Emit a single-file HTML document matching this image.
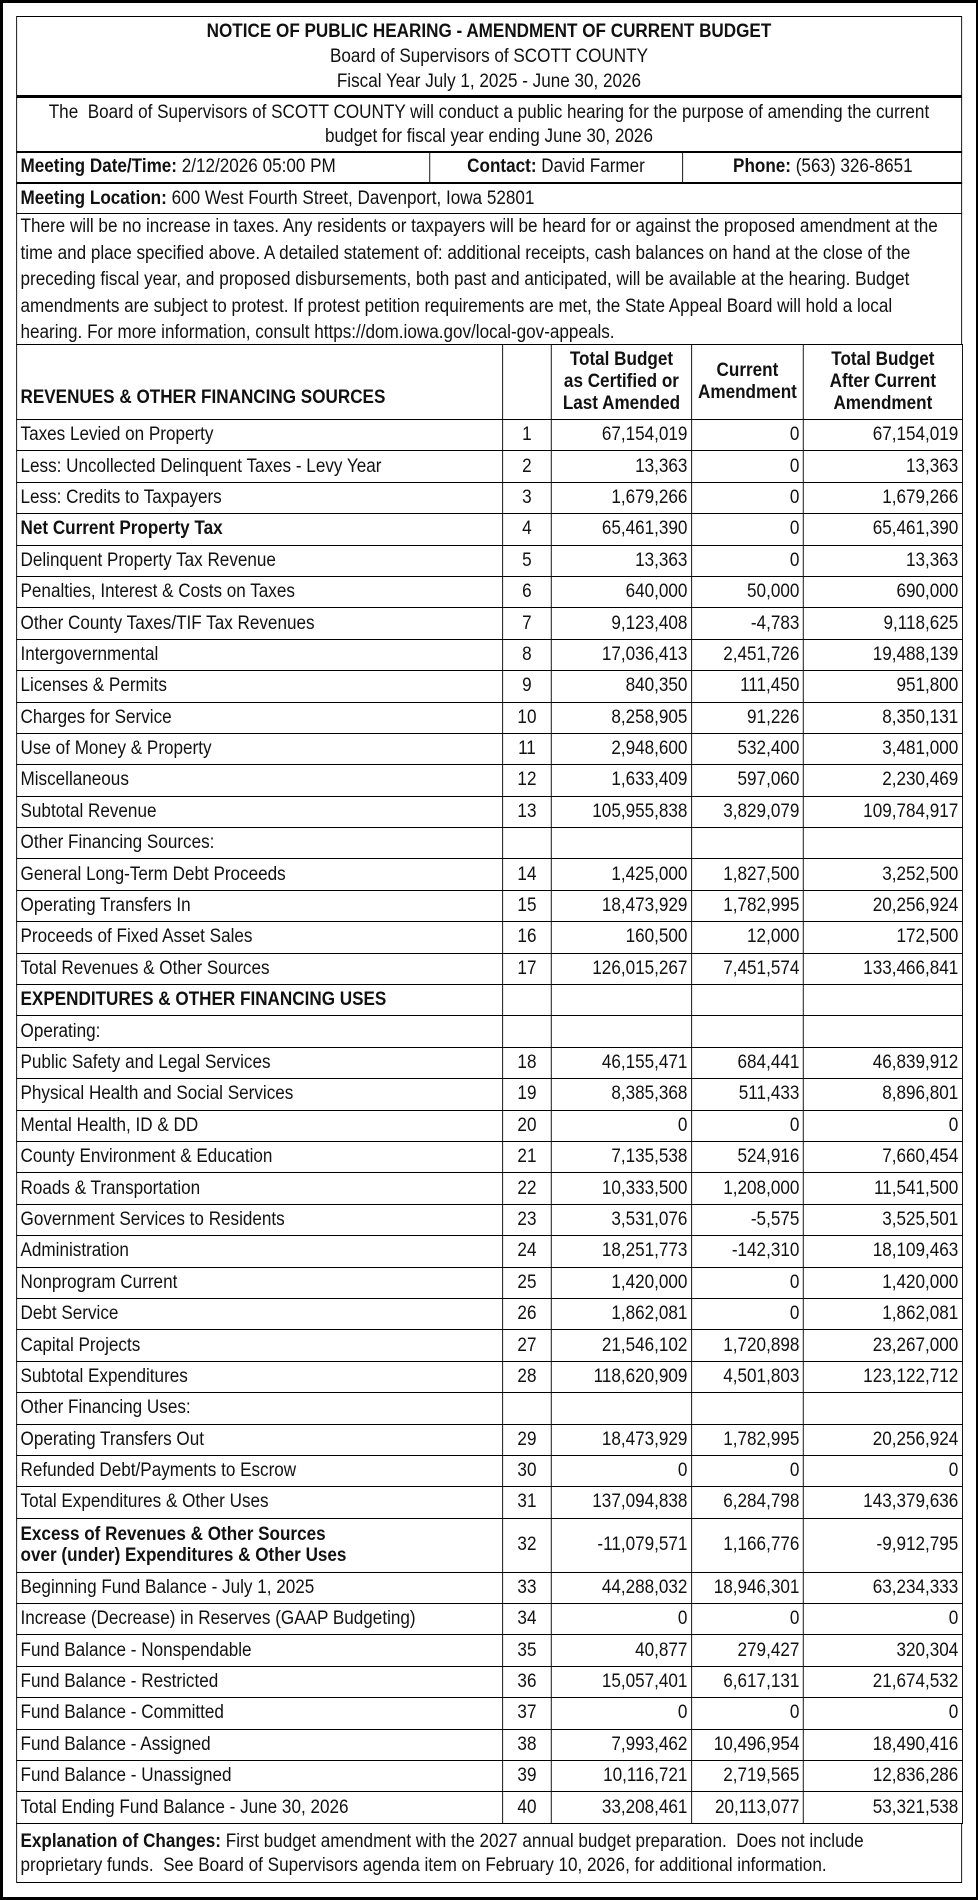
<!DOCTYPE html>
<html><head><meta charset="utf-8"><style>
*{margin:0;padding:0;box-sizing:border-box}
html,body{width:978px;height:1900px;background:#fff;overflow:hidden}
body{position:relative;font-family:"Liberation Sans Narrow","Liberation Sans",sans-serif;font-size:19px;color:#111}
.frame{position:absolute;left:0;top:0;width:978px;height:1900px;border-left:3px solid #000;border-top:3px solid #000;border-right:2px solid #000;border-bottom:3px solid #000;z-index:2}
.wrap{position:absolute;left:0;top:0;width:1087px;height:1900px;transform:scaleX(0.9);transform-origin:0 0}
.box{position:absolute;left:17.8px;width:1051px;border:1px solid #000;border-bottom:none}
.c{text-align:center}
b{font-weight:bold}
table{position:absolute;left:17.8px;top:344px;width:1051px;border-collapse:collapse;table-layout:fixed}
td{border:1px solid #000;height:31.4px;padding:0 4px;white-space:nowrap;line-height:20px;vertical-align:middle}
td.n{text-align:center}
td.r{text-align:right}
th{border:1px solid #000;font-weight:bold;line-height:22px;vertical-align:middle}
</style></head><body>
<div class="frame"></div>
<div class="wrap">
<div class="box c" style="top:16px;height:81px;border-bottom:2px solid #000;line-height:25px;padding-top:2px">
<b>NOTICE OF PUBLIC HEARING - AMENDMENT OF CURRENT BUDGET</b><br>Board of Supervisors of SCOTT COUNTY<br>Fiscal Year July 1, 2025 - June 30, 2026</div>
<div class="box c" style="top:97px;height:54px;line-height:24px;padding:3px 30px 0">The&nbsp; Board of Supervisors of SCOTT COUNTY will conduct a public hearing for the purpose of amending the current budget for fiscal year ending June 30, 2026</div>
<div class="box" style="top:151px;height:31px;border-top:2px solid #000;line-height:28px">
<span style="position:absolute;left:4px"><b>Meeting Date/Time:</b> 2/12/2026 05:00 PM</span>
<span style="position:absolute;left:458px;width:282px;text-align:center;border-left:1px solid #000;border-right:1px solid #000;height:30px"><b>Contact:</b> David Farmer</span>
<span style="position:absolute;left:740px;width:311px;text-align:center"><b>Phone:</b> (563) 326-8651</span></div>
<div class="box" style="top:182px;height:31px;border-top:2px solid #000;line-height:29px;padding-left:4px"><b>Meeting Location:</b> 600 West Fourth Street, Davenport, Iowa 52801</div>
<div class="box" style="top:213px;height:131px;border-top:1px solid #000;line-height:26.5px;padding:0 4px">There will be no increase in taxes. Any residents or taxpayers will be heard for or against the proposed amendment at the time and place specified above. A detailed statement of: additional receipts, cash balances on hand at the close of the preceding fiscal year, and proposed disbursements, both past and anticipated, will be available at the hearing. Budget amendments are subject to protest. If protest petition requirements are met, the State Appeal Board will hold a local hearing. For more information, consult https://dom.iowa.gov/local-gov-appeals.</div>
<table>
<colgroup><col style="width:540px"><col style="width:54.4px"><col style="width:155.6px"><col style="width:124.4px"><col style="width:176.6px"></colgroup>
<tr style="height:75px"><th style="text-align:left;vertical-align:bottom;padding:0 4px 10px">REVENUES &amp; OTHER FINANCING SOURCES</th><th></th><th>Total Budget<br>as Certified or<br>Last Amended</th><th>Current<br>Amendment</th><th>Total Budget<br>After Current<br>Amendment</th></tr>
<tr><td>Taxes Levied on Property</td><td class="n">1</td><td class="r">67,154,019</td><td class="r">0</td><td class="r">67,154,019</td></tr>
<tr><td>Less: Uncollected Delinquent Taxes - Levy Year</td><td class="n">2</td><td class="r">13,363</td><td class="r">0</td><td class="r">13,363</td></tr>
<tr><td>Less: Credits to Taxpayers</td><td class="n">3</td><td class="r">1,679,266</td><td class="r">0</td><td class="r">1,679,266</td></tr>
<tr><td><b>Net Current Property Tax</b></td><td class="n">4</td><td class="r">65,461,390</td><td class="r">0</td><td class="r">65,461,390</td></tr>
<tr><td>Delinquent Property Tax Revenue</td><td class="n">5</td><td class="r">13,363</td><td class="r">0</td><td class="r">13,363</td></tr>
<tr><td>Penalties, Interest &amp; Costs on Taxes</td><td class="n">6</td><td class="r">640,000</td><td class="r">50,000</td><td class="r">690,000</td></tr>
<tr><td>Other County Taxes/TIF Tax Revenues</td><td class="n">7</td><td class="r">9,123,408</td><td class="r">-4,783</td><td class="r">9,118,625</td></tr>
<tr><td>Intergovernmental</td><td class="n">8</td><td class="r">17,036,413</td><td class="r">2,451,726</td><td class="r">19,488,139</td></tr>
<tr><td>Licenses &amp; Permits</td><td class="n">9</td><td class="r">840,350</td><td class="r">111,450</td><td class="r">951,800</td></tr>
<tr><td>Charges for Service</td><td class="n">10</td><td class="r">8,258,905</td><td class="r">91,226</td><td class="r">8,350,131</td></tr>
<tr><td>Use of Money &amp; Property</td><td class="n">11</td><td class="r">2,948,600</td><td class="r">532,400</td><td class="r">3,481,000</td></tr>
<tr><td>Miscellaneous</td><td class="n">12</td><td class="r">1,633,409</td><td class="r">597,060</td><td class="r">2,230,469</td></tr>
<tr><td>Subtotal Revenue</td><td class="n">13</td><td class="r">105,955,838</td><td class="r">3,829,079</td><td class="r">109,784,917</td></tr>
<tr><td>Other Financing Sources:</td><td></td><td></td><td></td><td></td></tr>
<tr><td>General Long-Term Debt Proceeds</td><td class="n">14</td><td class="r">1,425,000</td><td class="r">1,827,500</td><td class="r">3,252,500</td></tr>
<tr><td>Operating Transfers In</td><td class="n">15</td><td class="r">18,473,929</td><td class="r">1,782,995</td><td class="r">20,256,924</td></tr>
<tr><td>Proceeds of Fixed Asset Sales</td><td class="n">16</td><td class="r">160,500</td><td class="r">12,000</td><td class="r">172,500</td></tr>
<tr><td>Total Revenues &amp; Other Sources</td><td class="n">17</td><td class="r">126,015,267</td><td class="r">7,451,574</td><td class="r">133,466,841</td></tr>
<tr><td><b>EXPENDITURES &amp; OTHER FINANCING USES</b></td><td></td><td></td><td></td><td></td></tr>
<tr><td>Operating:</td><td></td><td></td><td></td><td></td></tr>
<tr><td>Public Safety and Legal Services</td><td class="n">18</td><td class="r">46,155,471</td><td class="r">684,441</td><td class="r">46,839,912</td></tr>
<tr><td>Physical Health and Social Services</td><td class="n">19</td><td class="r">8,385,368</td><td class="r">511,433</td><td class="r">8,896,801</td></tr>
<tr><td>Mental Health, ID &amp; DD</td><td class="n">20</td><td class="r">0</td><td class="r">0</td><td class="r">0</td></tr>
<tr><td>County Environment &amp; Education</td><td class="n">21</td><td class="r">7,135,538</td><td class="r">524,916</td><td class="r">7,660,454</td></tr>
<tr><td>Roads &amp; Transportation</td><td class="n">22</td><td class="r">10,333,500</td><td class="r">1,208,000</td><td class="r">11,541,500</td></tr>
<tr><td>Government Services to Residents</td><td class="n">23</td><td class="r">3,531,076</td><td class="r">-5,575</td><td class="r">3,525,501</td></tr>
<tr><td>Administration</td><td class="n">24</td><td class="r">18,251,773</td><td class="r">-142,310</td><td class="r">18,109,463</td></tr>
<tr><td>Nonprogram Current</td><td class="n">25</td><td class="r">1,420,000</td><td class="r">0</td><td class="r">1,420,000</td></tr>
<tr><td>Debt Service</td><td class="n">26</td><td class="r">1,862,081</td><td class="r">0</td><td class="r">1,862,081</td></tr>
<tr><td>Capital Projects</td><td class="n">27</td><td class="r">21,546,102</td><td class="r">1,720,898</td><td class="r">23,267,000</td></tr>
<tr><td>Subtotal Expenditures</td><td class="n">28</td><td class="r">118,620,909</td><td class="r">4,501,803</td><td class="r">123,122,712</td></tr>
<tr><td>Other Financing Uses:</td><td></td><td></td><td></td><td></td></tr>
<tr><td>Operating Transfers Out</td><td class="n">29</td><td class="r">18,473,929</td><td class="r">1,782,995</td><td class="r">20,256,924</td></tr>
<tr><td>Refunded Debt/Payments to Escrow</td><td class="n">30</td><td class="r">0</td><td class="r">0</td><td class="r">0</td></tr>
<tr><td>Total Expenditures &amp; Other Uses</td><td class="n">31</td><td class="r">137,094,838</td><td class="r">6,284,798</td><td class="r">143,379,636</td></tr>
<tr style="height:54px"><td style="line-height:21px"><b>Excess of Revenues &amp; Other Sources<br>over (under) Expenditures &amp; Other Uses</b></td><td class="n">32</td><td class="r">-11,079,571</td><td class="r">1,166,776</td><td class="r">-9,912,795</td></tr>
<tr><td>Beginning Fund Balance - July 1, 2025</td><td class="n">33</td><td class="r">44,288,032</td><td class="r">18,946,301</td><td class="r">63,234,333</td></tr>
<tr><td>Increase (Decrease) in Reserves (GAAP Budgeting)</td><td class="n">34</td><td class="r">0</td><td class="r">0</td><td class="r">0</td></tr>
<tr><td>Fund Balance - Nonspendable</td><td class="n">35</td><td class="r">40,877</td><td class="r">279,427</td><td class="r">320,304</td></tr>
<tr><td>Fund Balance - Restricted</td><td class="n">36</td><td class="r">15,057,401</td><td class="r">6,617,131</td><td class="r">21,674,532</td></tr>
<tr><td>Fund Balance - Committed</td><td class="n">37</td><td class="r">0</td><td class="r">0</td><td class="r">0</td></tr>
<tr><td>Fund Balance - Assigned</td><td class="n">38</td><td class="r">7,993,462</td><td class="r">10,496,954</td><td class="r">18,490,416</td></tr>
<tr><td>Fund Balance - Unassigned</td><td class="n">39</td><td class="r">10,116,721</td><td class="r">2,719,565</td><td class="r">12,836,286</td></tr>
<tr><td>Total Ending Fund Balance - June 30, 2026</td><td class="n">40</td><td class="r">33,208,461</td><td class="r">20,113,077</td><td class="r">53,321,538</td></tr>
</table>
<div class="box" style="top:1823px;height:60px;border-bottom:1px solid #000;line-height:24px;padding:6px 4px 0"><b>Explanation of Changes:</b> First budget amendment with the 2027 annual budget preparation.&nbsp; Does not include<br>proprietary funds.&nbsp; See Board of Supervisors agenda item on February 10, 2026, for additional information.</div>
</div>
</body></html>
